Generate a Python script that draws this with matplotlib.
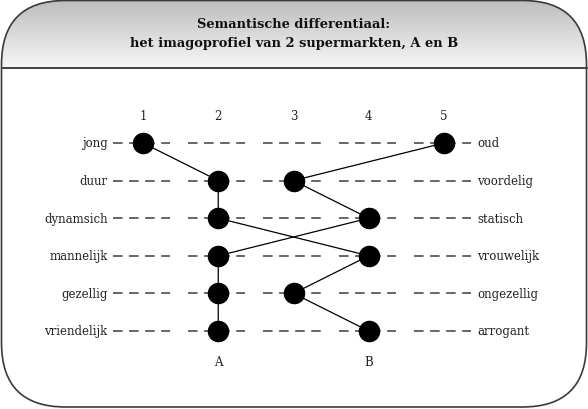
import matplotlib
matplotlib.use("Agg")
import matplotlib.pyplot as plt
from matplotlib.patches import FancyBboxPatch
from matplotlib.colors import LinearSegmentedColormap
import numpy as np

# semantic differential: left pole, right pole, scale 1..5
left_labels = ["jong", "duur", "dynamsich", "mannelijk", "gezellig", "vriendelijk"]
right_labels = ["oud", "voordelig", "statisch", "vrouwelijk", "ongezellig", "arrogant"]
scale = [1, 2, 3, 4, 5]

# profile lines (one score per row), ending at the labels below
profile_a = [5, 3, 4, 2, 2, 2]
profile_b = [1, 2, 2, 4, 3, 4]
profile_names = ["A", "B"]

title = "Semantische differentiaal:\nhet imagoprofiel van 2 supermarkten, A en B"

W, H = 588, 410
fig = plt.figure(figsize=(W / 100, H / 100), dpi=100)

# background frame in pixel coordinates
bg = fig.add_axes([0, 0, 1, 1])
bg.set_xlim(0, W)
bg.set_ylim(H, 0)
bg.axis("off")

frame = FancyBboxPatch((1.5, 1.5), W - 3, H - 3.5,
                       boxstyle="round,pad=0,rounding_size=64",
                       facecolor="white", edgecolor="none", zorder=1)
bg.add_patch(frame)

# gradient header, clipped to the frame
grad = np.linspace(0, 1, 100).reshape(-1, 1)
hdr_cmap = LinearSegmentedColormap.from_list("hdr", ["#bcbcbc", "#f7f7f7"])
img = bg.imshow(grad, extent=(0, W, 69, 0), cmap=hdr_cmap, aspect="auto", zorder=2)
img.set_clip_path(frame)
bg.plot([1.5, W - 1.5], [69, 69], color="#111111", linewidth=1.1, zorder=3)
outline = FancyBboxPatch((1.5, 1.5), W - 3, H - 3.5,
                         boxstyle="round,pad=0,rounding_size=64",
                         facecolor="none", edgecolor="#3a3a3a", linewidth=1.2, zorder=4)
bg.add_patch(outline)

bg.text(W / 2, 34, title, ha="center", va="center", fontsize=9.4,
        fontweight="bold", family="DejaVu Serif", color="#111111",
        linespacing=1.5, zorder=5)

# chart axes: x in scale units, y in row index
ax = fig.add_axes([0, 0, 1, 1])
ax.patch.set_alpha(0)
ax.axis("off")
px_x, x0 = 75.25, 143
px_y, y0 = 37.6, 144
ax.set_xlim(1 - x0 / px_x, 1 + (W - x0) / px_x)
ax.set_ylim((H - y0) / px_y, -y0 / px_y)

rows = np.arange(len(left_labels))
txt = dict(family="DejaVu Serif", fontsize=8.5, color="#222222")

for r in rows:
    for s in scale:
        ax.plot([s - 0.40, s + 0.36], [r, r], color="#5a5a5a", linewidth=1.3,
                linestyle=(0, (5.3, 3.6)), solid_capstyle="butt", zorder=2)
    ax.text(1 - 0.47, r, left_labels[r], ha="right", va="center", **txt)
    ax.text(5 + 0.44, r, right_labels[r], ha="left", va="center", **txt)

for s in scale:
    ax.text(s, -0.72, str(s), ha="center", va="center", **txt)

for prof, name in zip([profile_a, profile_b], profile_names):
    ax.plot(prof, rows, color="black", linewidth=0.9, zorder=3)
    ax.plot(prof, rows, "o", color="black", markersize=14.5, zorder=4)
    ax.text(prof[-1], len(rows) - 1 + 0.8, name, ha="center", va="center", **txt)

fig.savefig("out.png", dpi=100)
